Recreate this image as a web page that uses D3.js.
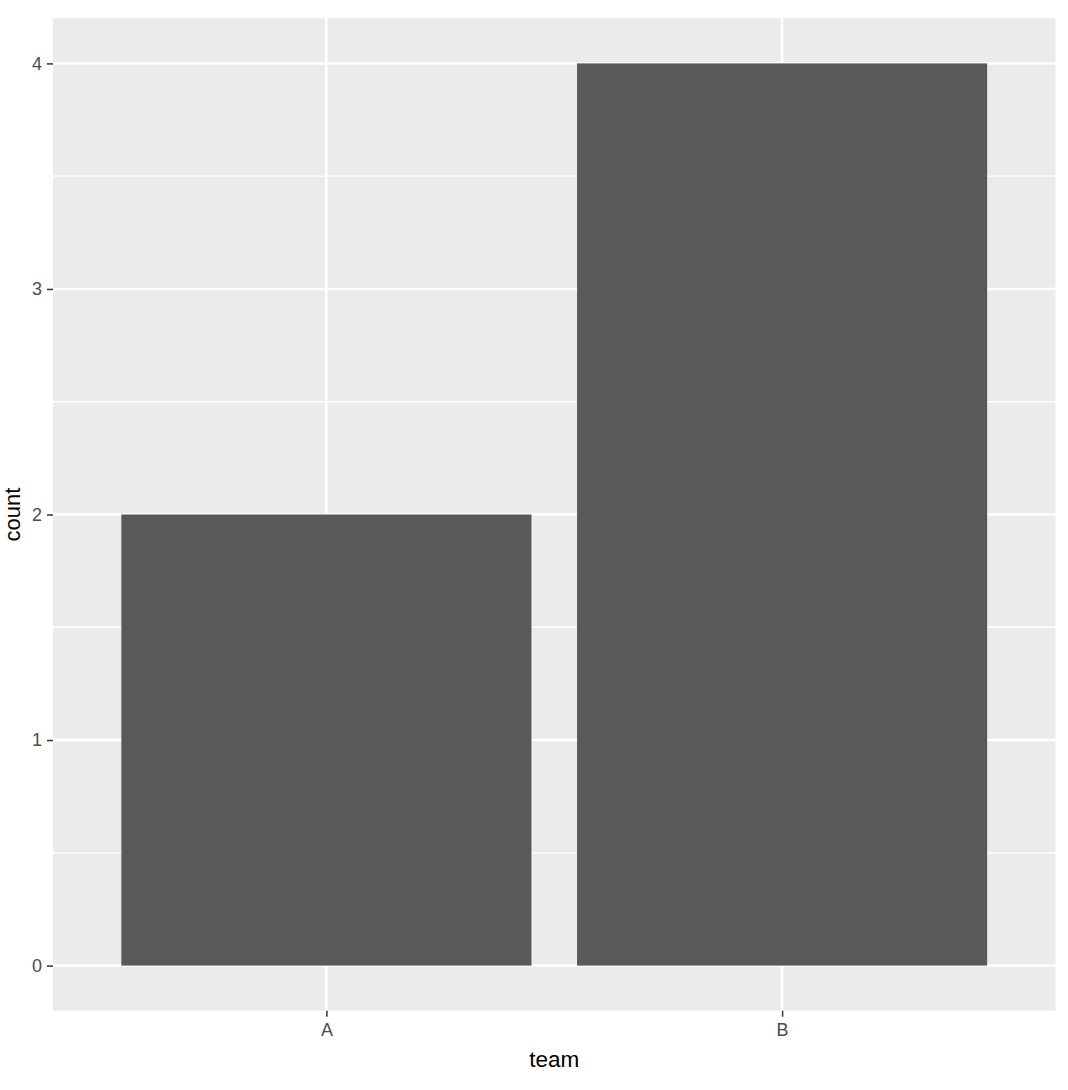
<!DOCTYPE html>
<html>
<head>
<meta charset="utf-8">
<script src="https://cdn.jsdelivr.net/npm/d3@7"></script>
<style>
  body { margin: 0; background: #fff; }
  svg { display: block; font-family: "Liberation Sans", Arial, sans-serif; }
</style>
</head>
<body>
<svg id="chart" width="1068" height="1090"></svg>
<script>
// datos
const teams = ["A", "B"];
const counts = [2, 4];
const yTicks = [0, 1, 2, 3, 4];
const yMinor = [0.5, 1.5, 2.5, 3.5];

const W = 1068, H = 1090;
const margin = { top: 18.3, right: 12.5, bottom: 79.3, left: 53 };
const pw = W - margin.left - margin.right;
const ph = H - margin.top - margin.bottom;

const svg = d3.select("#chart");
const g = svg.append("g").attr("transform", `translate(${margin.left},${margin.top})`);

// escalas con expansión estilo ggplot
const x = d3.scaleLinear().domain([0.4, 2.6]).range([0, pw]);
const y = d3.scaleLinear().domain([-0.2, 4.2]).range([ph, 0]);
const xPos = d => x(teams.indexOf(d) + 1);

// fondo del panel
g.append("rect").attr("width", pw).attr("height", ph).attr("fill", "#ebebeb");

// rejilla
g.selectAll(".minor").data(yMinor).enter().append("line")
  .attr("x1", 0).attr("x2", pw)
  .attr("y1", d => y(d)).attr("y2", d => y(d))
  .attr("stroke", "#fff").attr("stroke-width", 1.3);
g.selectAll(".major").data(yTicks).enter().append("line")
  .attr("x1", 0).attr("x2", pw)
  .attr("y1", d => y(d)).attr("y2", d => y(d))
  .attr("stroke", "#fff").attr("stroke-width", 2.5);
g.selectAll(".vmajor").data(teams).enter().append("line")
  .attr("x1", d => xPos(d)).attr("x2", d => xPos(d))
  .attr("y1", 0).attr("y2", ph)
  .attr("stroke", "#fff").attr("stroke-width", 2.5);

// barras
const bw = x(1.45) - x(0.55);
g.selectAll(".bar").data(teams).enter().append("rect")
  .attr("x", d => xPos(d) - bw / 2)
  .attr("width", bw)
  .attr("y", (d, i) => y(counts[i]))
  .attr("height", (d, i) => y(0) - y(counts[i]))
  .attr("fill", "#595959");

// ejes
const yAxis = g.append("g")
  .call(d3.axisLeft(y).tickValues(yTicks).tickSize(6).tickPadding(5).tickFormat(d3.format("d")));
const xAxis = g.append("g").attr("transform", `translate(0,${ph})`)
  .call(d3.axisBottom(x).tickValues(teams.map((t, i) => i + 1)).tickSize(6).tickPadding(7)
    .tickFormat(d => teams[d - 1]));
[yAxis, xAxis].forEach(a => {
  a.select(".domain").remove();
  a.selectAll(".tick line").attr("stroke", "#333").attr("stroke-width", 1.5);
  a.selectAll(".tick text").attr("fill", "#4d4d4d").style("font-size", "18px")
    .style("font-family", "Liberation Sans, Arial, sans-serif");
});

// títulos de ejes
svg.append("text")
  .attr("x", margin.left + pw / 2).attr("y", 1067)
  .attr("text-anchor", "middle").attr("fill", "#000")
  .style("font-size", "22.5px").text("team");
svg.append("text")
  .attr("transform", `translate(19.5,${margin.top + ph / 2}) rotate(-90)`)
  .attr("text-anchor", "middle").attr("fill", "#000")
  .style("font-size", "22px").text("count");
</script>
</body>
</html>
